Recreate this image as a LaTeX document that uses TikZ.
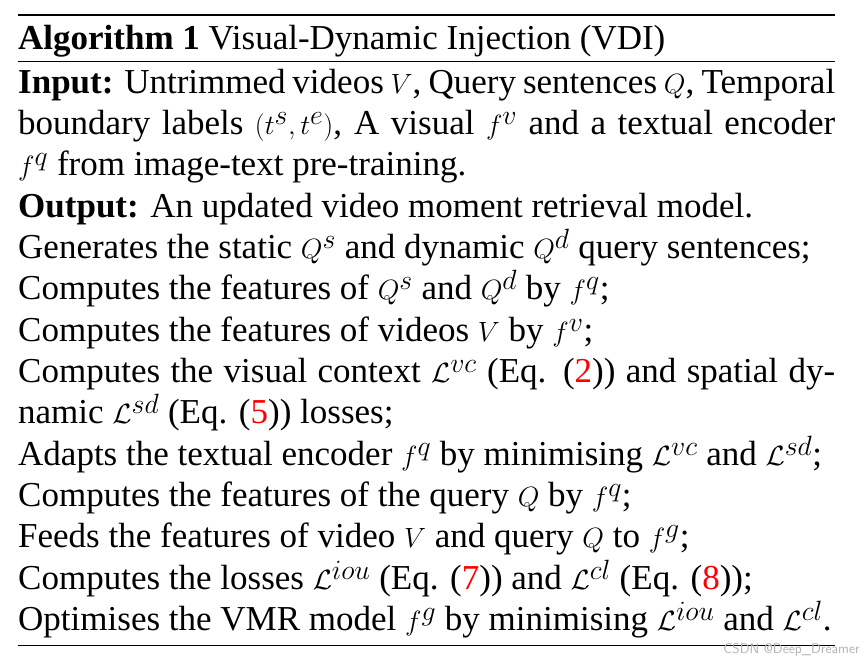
\documentclass[tikz,border=0pt]{standalone}
\usepackage{fontspec}
\setmainfont{Liberation Serif}
\usepackage{xcolor}
\begin{document}
\begin{tikzpicture}[x=1pt,y=1pt,
  ln/.style={anchor=base west,inner sep=0pt,font=\fontsize{35}{40}\selectfont},
  rule/.style={line width=#1}]
\useasboundingbox (0,0) rectangle (867,668);
\newcommand{\rr}[1]{\textcolor{red}{#1}}
\newcommand{\jl}[1]{\makebox[817pt][s]{#1}}
\newcommand{\mm}[1]{\scalebox{1.12}{$#1$}}
\draw[line width=1.6pt] (18,653) -- (835,653);
\draw[line width=0.8pt] (18,607) -- (835,607);
\draw[line width=0.8pt] (18,23) -- (835,23);
\node[ln] (t) at (18,618) {\textbf{Algorithm 1} Visual-Dynamic Injection (VDI)};
\node[ln] (l1) at (18,574) {\jl{\textbf{Input:} Untrimmed videos \mm{V}, Query sentences \mm{Q}, Temporal}};
\node[ln] (l2) at (18,533) {\jl{boundary labels \mm{(t^s,t^e)}, A visual \mm{f^v} and a textual encoder}};
\node[ln] (l3) at (18,492) {\mm{f^q} from image-text pre-training.};
\node[ln] (l4) at (18,450) {\textbf{Output:} An updated video moment retrieval model.};
\node[ln] (l5) at (18,409) {Generates the static \mm{Q^s} and dynamic \mm{Q^d} query sentences;};
\node[ln] (l6) at (18,368) {Computes the features of \mm{Q^s} and \mm{Q^d} by \mm{f^q};};
\node[ln] (l7) at (18,326) {Computes the features of videos \mm{V} by \mm{f^v};};
\node[ln] (l8) at (18,285) {\jl{Computes the visual context \mm{\mathcal{L}^{vc}} (Eq. (\rr{2})) and spatial dy-}};
\node[ln] (l9) at (18,244) {namic \mm{\mathcal{L}^{sd}} (Eq. (\rr{5})) losses;};
\node[ln] (l10) at (18,202) {Adapts the textual encoder \mm{f^q} by minimising \mm{\mathcal{L}^{vc}} and \mm{\mathcal{L}^{sd}};};
\node[ln] (l11) at (18,161) {Computes the features of the query \mm{Q} by \mm{f^q};};
\node[ln] (l12) at (18,120) {Feeds the features of video \mm{V} and query \mm{Q} to \mm{f^g};};
\node[ln] (l13) at (18,78) {Computes the losses \mm{\mathcal{L}^{iou}} (Eq. (\rr{7})) and \mm{\mathcal{L}^{cl}} (Eq. (\rr{8}));};
\node[ln] (l14) at (18,37) {Optimises the VMR model \mm{f^g} by minimising \mm{\mathcal{L}^{iou}} and \mm{\mathcal{L}^{cl}}.};
\node[anchor=south east,inner sep=2pt,font=\fontsize{14}{15}\sffamily,text=gray!60] (wm) at (862,10) {CSDN @Deep\_Dreamer};
\end{tikzpicture}
\end{document}
